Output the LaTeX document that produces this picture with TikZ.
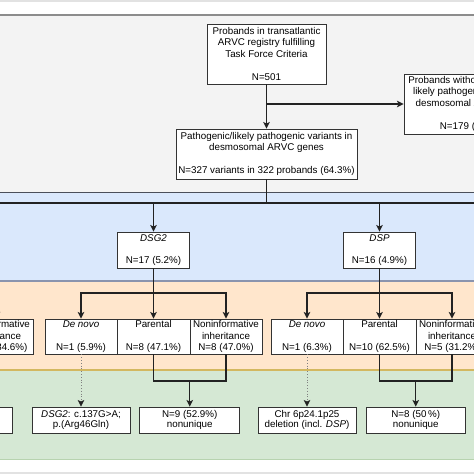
\documentclass[tikz,border=0pt]{standalone}
\usepackage{fontspec}
\setmainfont{Liberation Sans}
\usetikzlibrary{arrows.meta}
\definecolor{topgray}{HTML}{E2E2E2}
\definecolor{regiongray}{HTML}{F3F3F3}
\definecolor{bandline}{HTML}{8C8C8C}
\definecolor{darkband}{HTML}{4A4F5A}
\definecolor{blueband}{HTML}{DAE8FC}
\definecolor{orangeband}{HTML}{FFE6CC}
\definecolor{greenband}{HTML}{D5E8D4}
\definecolor{bluegrayline}{HTML}{8A94AE}
\definecolor{goldline}{HTML}{D3B860}
\definecolor{greenline}{HTML}{B7D3AF}
\definecolor{linec}{HTML}{222222}
\definecolor{boxc}{HTML}{333333}
\newcommand{\fsz}{\fontsize{9.8pt}{11.6pt}\selectfont}
\newcommand{\fsg}{\fontsize{9.8pt}{10.2pt}\selectfont}
\tikzset{
  box/.style={draw=boxc, fill=white, line width=0.9pt, inner sep=0pt, align=center, font=\fsz},
  gbox/.style={box, font=\fsg, minimum height=26pt},
  rowbox/.style={box, minimum width=72pt, minimum height=35pt},
  conn/.style={draw=linec, line width=1.2pt},
  arr/.style={conn, -{Stealth[length=6.5pt,width=6.5pt,inset=1.5pt]}},
  dotarr/.style={draw=gray, line width=0.8pt, dotted, -{Stealth[length=6.5pt,width=6.5pt,inset=1.5pt,color=linec]}}
}
\begin{document}
\begin{tikzpicture}[x=1pt,y=-1pt]
\useasboundingbox (0,0) rectangle (474,474);
\clip (0,0) rectangle (474,474);
% bands
\fill[topgray] (0,0) rectangle (474,2);
\fill[white] (0,2) rectangle (474,14);
\fill[regiongray] (0,14) rectangle (474,192.5);
\draw[bandline, line width=1.5pt] (-5,14.8) -- (479,14.8);
\fill[blueband] (0,192.5) rectangle (474,281);
\draw[darkband, line width=1.2pt] (-5,192.8) -- (479,192.8);
\fill[orangeband] (0,281) rectangle (474,370);
\draw[bluegrayline, line width=1.2pt] (-5,281) -- (479,281);
\fill[greenband] (0,370) rectangle (474,459);
\draw[goldline, line width=1.5pt] (-5,370) -- (479,370);
\draw[greenline, line width=1pt] (-5,459) -- (479,459);
\fill[white] (0,459.5) rectangle (474,472);
\fill[topgray] (0,472) rectangle (474,474);
% top nodes
\node[box, minimum width=119pt, minimum height=60pt] (top) at (266.5,54) {Probands in transatlantic\\ARVC registry fulfilling\\Task Force Criteria\\[11.6pt]N=501};
\node[box, minimum width=138pt, minimum height=60pt] (rb) at (473,104) {Probands without pathogenic/\\likely pathogenic variants in\\desmosomal ARVC genes\\[11.6pt]N=179 (35.7\%)};
\node[box, minimum width=181pt, minimum height=50pt] (path) at (266.5,154) {Pathogenic/likely pathogenic variants in\\desmosomal ARVC genes\\[11.6pt]N=327 variants in 322 probands (64.3\%)};
\draw[arr] (top.south) -- (path.north);
\draw[arr] (top.south |- rb.west) -- (rb.west);
% gene level
\node[box, minimum width=72pt, minimum height=36pt] (dsg2) at (153.5,250) {\textit{DSG2}\\[11pt]N=17 (5.2\%)};
\node[box, minimum width=72pt, minimum height=36pt] (dsp) at (379.5,250) {\textit{DSP}\\[11pt]N=16 (4.9\%)};
\coordinate (hb) at (266.5,203);
\coordinate (hl) at (-5,203);
\coordinate (hr) at (479,203);
\draw[conn] (path.south) -- (hb);
\draw[conn] (hl) -- (hr);
\draw[arr] (dsg2.north |- hb) -- (dsg2.north);
\draw[arr] (dsp.north |- hb) -- (dsp.north);
% inheritance row
\node[rowbox] (ni0) at (-3,336.5) {Noninformative\\inheritance\\N=90 (34.6\%)};
\node[rowbox] (dn1) at (81,336.5) {\textit{De novo}\\[11.6pt]N=1 (5.9\%)};
\node[rowbox, minimum width=73pt] (par1) at (153.5,336.5) {Parental\\[11.6pt]N=8 (47.1\%)};
\node[rowbox] (ni1) at (226,336.5) {Noninformative\\inheritance\\N=8 (47.0\%)};
\node[rowbox] (dn2) at (307,336.5) {\textit{De novo}\\[11.6pt]N=1 (6.3\%)};
\node[rowbox, minimum width=73pt] (par2) at (379.5,336.5) {Parental\\[11.6pt]N=10 (62.5\%)};
\node[rowbox] (ni2) at (452,336.5) {Noninformative\\inheritance\\N=5 (31.2\%)};
\coordinate (b0) at (-3,293);
\coordinate (b1) at (153.5,293);
\coordinate (b2) at (379.5,293);
\draw[arr] (b0) -- (ni0.north);
\draw[arr] (dsg2.south) -- (par1.north);
\draw[arr] (b1) -| (dn1.north);
\draw[arr] (b1) -| (ni1.north);
\draw[arr] (dsp.south) -- (par2.north);
\draw[arr] (b2) -| (dn2.north);
\draw[arr] (b2) -| (ni2.north);
% variant row
\node[gbox, minimum width=100pt] (g0) at (-38,420) {};
\node[gbox, minimum width=98pt] (var1) at (81,420) {\textit{DSG2}: c.137G>A;\\p.(Arg46Gln)};
\node[gbox, minimum width=100pt] (nu1) at (189.75,420) {N=9 (52.9\%)\\nonunique};
\node[gbox, minimum width=98pt] (var2) at (307,420) {Chr 6p24.1p25\\deletion (incl. \textit{DSP})};
\node[gbox, minimum width=99pt] (nu2) at (415.75,420) {N=8 (50\,\%)\\nonunique};
\coordinate (m1) at (189.75,381);
\coordinate (m2) at (415.75,381);
\draw[dotarr] (dn1.south) -- (var1.north);
\draw[dotarr] (dn2.south) -- (var2.north);
\draw[conn] (par1.south) |- (m1) -| (ni1.south);
\draw[arr] (m1) -- (nu1.north);
\draw[conn] (par2.south) |- (m2) -| (ni2.south);
\draw[arr] (m2) -- (nu2.north);
\end{tikzpicture}
\end{document}
